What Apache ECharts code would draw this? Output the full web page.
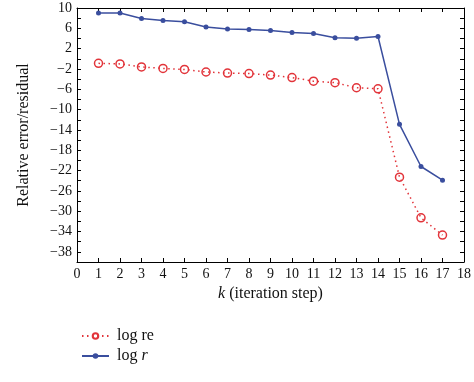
<!DOCTYPE html>
<html>
<head>
<meta charset="utf-8">
<script src="https://cdn.jsdelivr.net/npm/echarts@6/dist/echarts.min.js"></script>
<style>
html,body{margin:0;padding:0;background:#fff;}
#c{width:474px;height:382px;}
</style>
</head>
<body>
<div id="c"></div>
<script>
var kValues = [1,2,3,4,5,6,7,8,9,10,11,12,13,14,15,16,17];
var logRe = [-0.9,-1.0,-1.6,-1.9,-2.1,-2.6,-2.8,-2.9,-3.2,-3.7,-4.4,-4.7,-5.7,-5.9,-23.3,-31.3,-34.7];
var logR = [9.0,9.0,7.95,7.55,7.3,6.25,5.85,5.75,5.55,5.2,5.0,4.15,4.05,4.4,-12.9,-21.2,-23.9];
var xRange = [0, 18];
var yRange = [-40, 10];

var FONT = '"Liberation Serif", "DejaVu Serif", serif';
var chart = echarts.init(document.getElementById('c'), null, {renderer: 'canvas'});

function pairs(ys) { return kValues.map(function (k, i) { return [k, ys[i]]; }); }
function yFmt(v) {
  if ((v - 10) % 4 !== 0) return '';
  return String(v).replace('-', '\u2212');
}
var axisLine = {show: true, onZero: false, lineStyle: {color: '#000', width: 1}};
var tick = {show: true, inside: true, length: 4, lineStyle: {color: '#000', width: 1}};

chart.setOption({
  animation: false,
  backgroundColor: '#fff',
  grid: {left: 77, right: 9, top: 8, bottom: 120, containLabel: false},
  xAxis: [{
    type: 'value', min: xRange[0], max: xRange[1], interval: 1,
    axisLine: axisLine, axisTick: tick, splitLine: {show: false},
    axisLabel: {color: '#111', fontFamily: FONT, fontSize: 14, margin: 5},
    name: '{i|k} (iteration step)', nameLocation: 'middle', nameGap: 24,
    nameTextStyle: {color: '#111', fontFamily: FONT, fontSize: 16,
      rich: {i: {fontStyle: 'italic', fontFamily: FONT, fontSize: 16, color: '#111'}}}
  }, {
    type: 'value', position: 'top', min: xRange[0], max: xRange[1], interval: 1,
    axisLine: axisLine, axisTick: tick, splitLine: {show: false}, axisLabel: {show: false}
  }],
  yAxis: [{
    type: 'value', min: yRange[0], max: yRange[1], interval: 2,
    axisLine: axisLine, axisTick: tick, splitLine: {show: false},
    axisLabel: {color: '#111', fontFamily: FONT, fontSize: 14, margin: 5, formatter: yFmt},
    name: 'Relative error/residual', nameLocation: 'middle', nameGap: 45, nameRotate: 90,
    nameTextStyle: {color: '#111', fontFamily: FONT, fontSize: 16}
  }, {
    type: 'value', position: 'right', min: yRange[0], max: yRange[1], interval: 2,
    axisLine: axisLine, axisTick: tick, splitLine: {show: false}, axisLabel: {show: false}
  }],
  legend: {
    orient: 'vertical', left: 76, top: 323, itemGap: 4,
    itemWidth: 27, itemHeight: 7,
    textStyle: {color: '#111', fontFamily: FONT, fontSize: 16, padding: [0, 0, 0, 3],
      rich: {i: {fontStyle: 'italic', fontFamily: FONT, fontSize: 16, color: '#111'}}},
    formatter: function (n) { return n === 'log r' ? 'log {i|r}' : n; },
    data: ['log re', 'log r']
  },
  series: [{
    name: 'log re', type: 'line', data: pairs(logRe),
    symbol: 'circle', symbolSize: 8,
    itemStyle: {color: 'rgba(255,255,255,0)', borderColor: '#e2343a', borderWidth: 1.5},
    lineStyle: {color: '#e2343a', width: 1.5, type: [1.5, 3.5]}
  }, {
    name: 'log r', type: 'line', data: pairs(logR),
    symbol: 'circle', symbolSize: 5,
    itemStyle: {color: '#3a4e9e'},
    lineStyle: {color: '#3a4e9e', width: 1.5}
  }]
});
</script>
</body>
</html>
